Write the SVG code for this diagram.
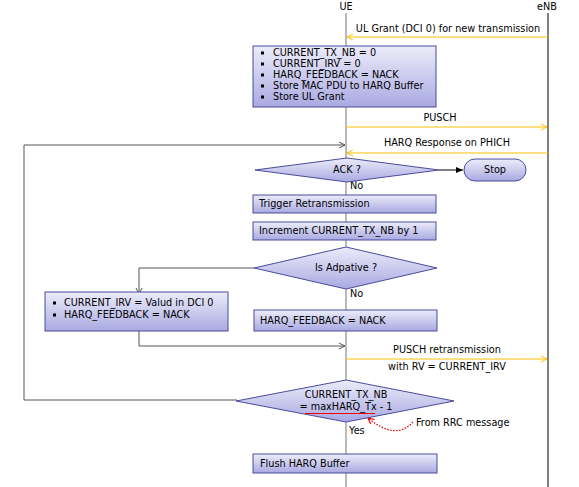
<svg xmlns="http://www.w3.org/2000/svg" width="579" height="487" viewBox="0 0 579 487">
<defs>
<linearGradient id="g" x1="0" y1="0" x2="0" y2="1">
<stop offset="0" stop-color="#ececfa"/>
<stop offset="1" stop-color="#a9a9e2"/>
</linearGradient>
<marker id="oa" markerWidth="8" markerHeight="8" refX="7" refY="4" orient="auto" markerUnits="userSpaceOnUse">
<path d="M1,1 L7,4 L1,7" fill="none" stroke="#ffc000" stroke-width="1"/>
</marker>
<marker id="ga" markerWidth="8" markerHeight="8" refX="7" refY="4" orient="auto" markerUnits="userSpaceOnUse">
<path d="M1,1 L7,4 L1,7" fill="none" stroke="#555" stroke-width="1"/>
</marker>
<marker id="ba" markerWidth="8" markerHeight="8" refX="7" refY="4" orient="auto" markerUnits="userSpaceOnUse">
<path d="M0,1 L7,4 L0,7 Z" fill="#000"/>
</marker>
<marker id="ra" markerWidth="8" markerHeight="8" refX="7" refY="4" orient="auto" markerUnits="userSpaceOnUse">
<path d="M1,1 L7,4 L1,7" fill="none" stroke="#e00" stroke-width="1.2"/>
</marker>
</defs>
<style>
text{font-family:"DejaVu Sans",Verdana,sans-serif;font-size:9.7px;fill:#000}
.c{text-anchor:middle}
.bul{fill:#000}
.box{fill:url(#g);stroke:#4b4b9c;stroke-width:1}
.msg{fill:none;stroke:#ffc000;stroke-width:1;marker-end:url(#oa)}
.ln{fill:none;stroke:#555;stroke-width:1}
.lna{fill:none;stroke:#555;stroke-width:1;marker-end:url(#ga)}
</style>
<rect width="579" height="487" fill="#fff"/>
<g id="lifelines">
<text class="c" x="346" y="10">UE</text>
<text class="c" x="547" y="10">eNB</text>
<line x1="346" y1="13" x2="346" y2="487" stroke="#777" stroke-width="1"/>
<line x1="548" y1="13" x2="548" y2="487" stroke="#000" stroke-width="1"/>
</g>
<g id="connectors">
<line class="msg" x1="548" y1="37" x2="347" y2="37"/>
<text class="c" x="448" y="32">UL Grant (DCI 0) for new transmission</text>
<line class="msg" x1="346" y1="127" x2="547" y2="127"/>
<text class="c" x="440" y="121">PUSCH</text>
<polyline class="lna" points="237,400 24,400 24,145 345,145"/>
<line class="msg" x1="548" y1="153" x2="347" y2="153"/>
<text class="c" x="447" y="146">HARQ Response on PHICH</text>
<line x1="439" y1="170" x2="463" y2="170" stroke="#000" stroke-width="1" marker-end="url(#ba)"/>
<polyline class="lna" points="254,268 139,268 139,294"/>
<polyline class="ln" points="139,331 139,346"/>
<line class="lna" x1="139" y1="346" x2="345" y2="346"/>
<line class="msg" x1="346" y1="359" x2="547" y2="359"/>
<text class="c" x="447" y="353">PUSCH retransmission</text>
<text class="c" x="447" y="370">with RV = CURRENT_IRV</text>
<text x="350" y="189">No</text>
<text x="350" y="297">No</text>
<text x="349" y="434">Yes</text>
<path d="M413,422 C400,436 385,432 368,418" fill="none" stroke="#e00" stroke-width="1.3" stroke-dasharray="1.5,1.5" marker-end="url(#ra)"/>
<text x="416" y="426">From RRC message</text>
</g>
<g id="init">
<rect class="box" x="253" y="46" width="183" height="61"/>
<rect class="bul" x="261" y="51.5" width="3" height="3"/><text x="273" y="56">CURRENT_TX_NB = 0</text>
<rect class="bul" x="261" y="62.5" width="3" height="3"/><text x="273" y="67">CURRENT_IRV = 0</text>
<rect class="bul" x="261" y="73.5" width="3" height="3"/><text x="273" y="78">HARQ_FEEDBACK = NACK</text>
<rect class="bul" x="261" y="84.5" width="3" height="3"/><text x="273" y="89">Store MAC PDU to HARQ Buffer</text>
<rect class="bul" x="261" y="95.5" width="3" height="3"/><text x="273" y="100">Store UL Grant</text>
</g>
<g id="ack">
<polygon class="box" points="255,170 347,158 439,170 347,182"/>
<text class="c" x="347" y="173">ACK ?</text>
</g>
<g id="stop">
<rect class="box" x="464" y="159" width="62" height="22" rx="11"/>
<text class="c" x="495" y="173">Stop</text>
</g>
<g id="trigger">
<rect class="box" x="253" y="195" width="183" height="18"/>
<text x="259" y="207">Trigger Retransmission</text>
</g>
<g id="increment">
<rect class="box" x="253" y="222" width="183" height="18"/>
<text x="259" y="234">Increment CURRENT_TX_NB by 1</text>
</g>
<g id="adaptive">
<polygon class="box" points="254,268 346,247 437,268 346,289"/>
<text class="c" x="346" y="271">Is Adpative ?</text>
</g>
<g id="adaptiveBox">
<rect class="box" x="45" y="292" width="183" height="39"/>
<rect class="bul" x="53" y="301.5" width="3" height="3"/><text x="64" y="306">CURRENT_IRV = Valud in DCI 0</text>
<rect class="bul" x="53" y="313.5" width="3" height="3"/><text x="64" y="318">HARQ_FEEDBACK = NACK</text>
</g>
<g id="nack">
<rect class="box" x="254" y="310" width="183" height="21"/>
<text x="260" y="324">HARQ_FEEDBACK = NACK</text>
</g>
<g id="maxcheck">
<polygon class="box" points="236,401 346,380 454,401 346,422"/>
<text class="c" x="346" y="398">CURRENT_TX_NB</text>
<text class="c" x="346" y="410">= maxHARQ_Tx - 1</text>
<line x1="305" y1="413.5" x2="375" y2="413.5" stroke="#e00" stroke-width="1"/>
</g>
<g id="flush">
<rect class="box" x="253" y="454" width="184" height="19"/>
<text x="260" y="467">Flush HARQ Buffer</text>
</g>
</svg>
